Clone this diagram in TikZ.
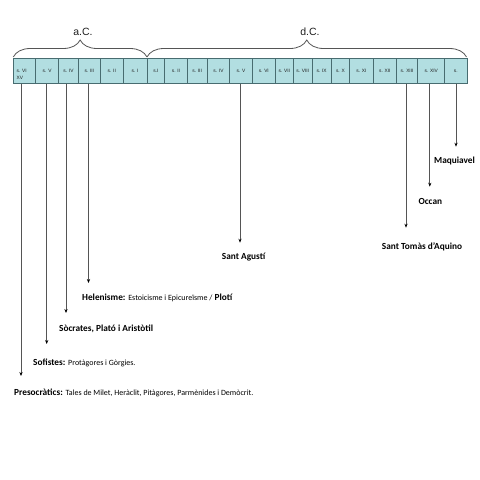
\documentclass[tikz,border=0pt]{standalone}
\usepackage{fontspec}
\setmainfont{Carlito}
\newfontfamily\arialf{Liberation Sans}
\usetikzlibrary{arrows.meta,decorations.pathreplacing}
\definecolor{cellfill}{RGB}{178,222,225}
\definecolor{celldraw}{RGB}{72,108,112}
\definecolor{linegray}{RGB}{85,85,85}
\definecolor{txtgray}{RGB}{30,30,30}
\newcommand\smtxt[1]{{\fontsize{8}{9.5}\selectfont\mdseries #1}}
\tikzset{
  cellbox/.style={draw=celldraw, fill=cellfill, line width=0.9pt},
  celltxt/.style={font=\arialf\fontsize{4.8}{5.4}\selectfont, text=txtgray, inner sep=0pt},
  era/.style={font=\arialf\fontsize{10.5}{12}\selectfont, text=txtgray, inner sep=0pt},
  bracestyle/.style={draw=linegray, line width=0.8pt, decorate, decoration={brace, amplitude=17pt}},
  arr/.style={draw=linegray, line width=0.8pt, -{Stealth[length=4pt,width=3.2pt,black]}},
  lab/.style={anchor=west, inner sep=0pt, text=black, font=\fontsize{9.3}{11}\selectfont\bfseries}
}
\begin{document}
\begin{tikzpicture}[x=1pt,y=-1pt]
\useasboundingbox[fill=white] (0,0) rectangle (480,480);
% cells
\foreach \a/\b [count=\i] in {13.3/35,35/58.3,58.3/77.7,77.7/100,100/122.7,122.7/146.7,146.7/164.3,164.3/186.7,186.7/206.7,206.7/229.3,229.3/251.7,251.7/275,275/292.7,292.7/311.7,311.7/330.7,330.7/349.3,349.3/372.7,372.7/396,396/417.3,417.3/444.3,444.3/466.5}{
  \node[cellbox, rectangle, minimum width={(\b-\a)*1pt}, minimum height=25.5pt, inner sep=0pt, anchor=north west] (c\i) at (\a,57.5) {};
}
% cell labels
\node[celltxt, anchor=west] (t1a) at (16.5,71) {s. VI};
\node[celltxt, anchor=west] (t1b) at (16.5,78) {XV};
\foreach \txt [count=\i from 2] in {s. V,s. IV,s. III,s. II,s. I,s.I,s. II,s. III,s. IV,s. V,s. VI,s. VII,s. VIII,s. IX,s. X,s. XI,s. XII,s. XIII,s. XIV,s.}{
  \node[celltxt] (t\i) at ([yshift=-13.5pt]c\i.north) {\txt};
}
% braces
\coordinate (bl) at (13.3,57);
\coordinate (bm) at (147,57);
\coordinate (br) at (466.5,57);
\draw[bracestyle] (bl) -- (bm);
\draw[bracestyle] (bm) -- (br);
\node[era] (ac) at (83,31.7) {a.C.};
\node[era] (dc) at (310,31.7) {d.C.};
% arrow ends
\coordinate (e1) at (21,376);
\coordinate (e2) at (46.7,344);
\coordinate (e3) at (66,313);
\coordinate (e4) at (88.5,283);
\coordinate (e11) at (240,242.7);
\coordinate (e19) at (406,227.7);
\coordinate (e20) at (429.8,186.7);
\coordinate (e21) at (456,146.7);
\draw[arr] (c1.south -| e1) -- (e1);
\draw[arr] (c2.south -| e2) -- (e2);
\draw[arr] (c3.south -| e3) -- (e3);
\draw[arr] (c4.south -| e4) -- (e4);
\draw[arr] (c11.south -| e11) -- (e11);
\draw[arr] (c19.south -| e19) -- (e19);
\draw[arr] (c20.south -| e20) -- (e20);
\draw[arr] (c21.south -| e21) -- (e21);
% labels
\node[lab] (pre) at (14,392.5) {Presocràtics: \smtxt{Tales de Milet, Heràclit, Pitàgores, Parmènides i Demòcrit.}};
\node[lab] (sof) at (33,363.3) {Sofistes: \smtxt{Protàgores i Gòrgies.}};
\node[lab] (soc) at (59,328.5) {Sòcrates, Plató i Aristòtil};
\node[lab] (hel) at (82,298.3) {Helenisme: \smtxt{Estoicisme i Epicureïsme /} Plotí};
\node[lab] (agu) at (221.7,257) {Sant Agustí};
\node[lab] (tom) at (381.7,247) {Sant Tomàs d’Aquino};
\node[lab] (occ) at (418.3,201) {Occan};
\node[lab] (maq) at (434,161) {Maquiavel};
\end{tikzpicture}
\end{document}
